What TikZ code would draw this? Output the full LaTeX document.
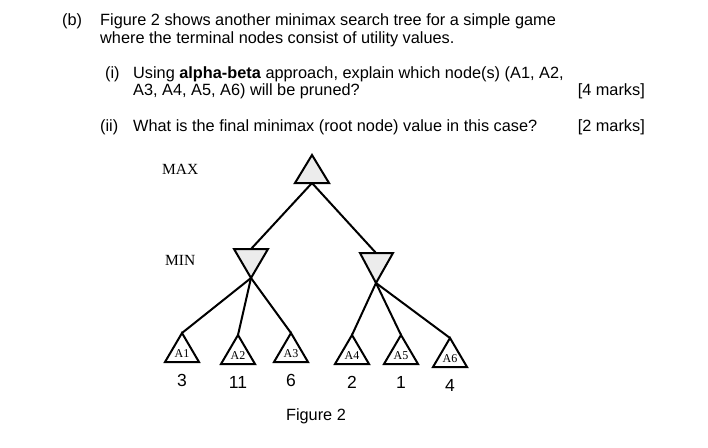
\documentclass[tikz,border=0pt]{standalone}
\usepackage{fontspec}
\setmainfont{Liberation Sans}
\newfontfamily\serif{Liberation Serif}
\begin{document}
\begin{tikzpicture}[x=1pt,y=-1pt,
  txt/.style={anchor=base west,inner sep=0pt,font=\fontsize{16.3}{20}\selectfont},
  rtxt/.style={anchor=base east,inner sep=0pt,font=\fontsize{16.3}{20}\selectfont},
  lvl/.style={anchor=base west,inner sep=0pt,font=\serif\fontsize{15.5}{18}\selectfont},
  tri/.style={draw,line width=2pt,fill=gray!15,line join=miter},
  leaf/.style={draw,line width=2pt,fill=white},
  edge/.style={line width=2pt},
  lab/.style={inner sep=0pt,font=\serif\fontsize{12}{12}\selectfont},
  num/.style={anchor=base,inner sep=0pt,font=\fontsize{17.5}{20}\selectfont}]
\useasboundingbox (0,0) rectangle (708,447);
\node[txt] (b) at (62,25) {(b)};
\node[txt] (l1) at (100,25) {Figure 2 shows another minimax search tree for a simple game};
\node[txt] (l2) at (100,43) {where the terminal nodes consist of utility values.};
\node[txt] (i) at (105,78) {(i)};
\node[txt] (i1) at (133,78) {Using \textbf{alpha-beta} approach, explain which node(s) (A1, A2,};
\node[txt] (i2) at (133,95) {A3, A4, A5, A6) will be pruned?};
\node[rtxt] (m4) at (645,95) {[4 marks]};
\node[txt] (ii) at (100,131) {(ii)};
\node[txt] (ii1) at (133,131) {What is the final minimax (root node) value in this case?};
\node[rtxt] (m2) at (645,131) {[2 marks]};
\node[lvl] (max) at (162,174) {MAX};
\node[lvl] (min) at (165,265) {MIN};
\coordinate (r) at (312,183);
\coordinate (m1t) at (251,249); \coordinate (m1b) at (251,278);
\coordinate (m2t) at (376,253); \coordinate (m2b) at (376,283);
\draw[edge] (r) -- (m1t); \draw[edge] (r) -- (m2t);
\foreach \n/\x/\t in {1/182/333,2/238/335,3/291/333}{\coordinate (a\n) at (\x,\t); \draw[edge] (m1b) -- (a\n);}
\foreach \n/\x/\t in {4/352/335,5/401/335,6/450/338}{\coordinate (a\n) at (\x,\t); \draw[edge] (m2b) -- (a\n);}
\draw[tri] (312,155) -- (329,183) -- (295,183) -- cycle;
\draw[tri] (234,249) -- (268,249) -- (251,278) -- cycle;
\draw[tri] (360,253) -- (393,253) -- (376,283) -- cycle;
\foreach \n/\x/\t/\v in {1/182/333/3,2/238/335/11,3/291/333/6,4/352/335/2,5/401/335/1,6/450/338/4}{
  \draw[leaf] (\x,\t) -- (\x+17,\t+29) -- (\x-17,\t+29) -- cycle;
  \node[lab] (L\n) at (\x,\t+21) {A\n};
  \node[num] (N\n) at (\x,\t+53) {\v};
}
\node[txt,anchor=base] (fig) at (316,420) {Figure 2};
\end{tikzpicture}
\end{document}
